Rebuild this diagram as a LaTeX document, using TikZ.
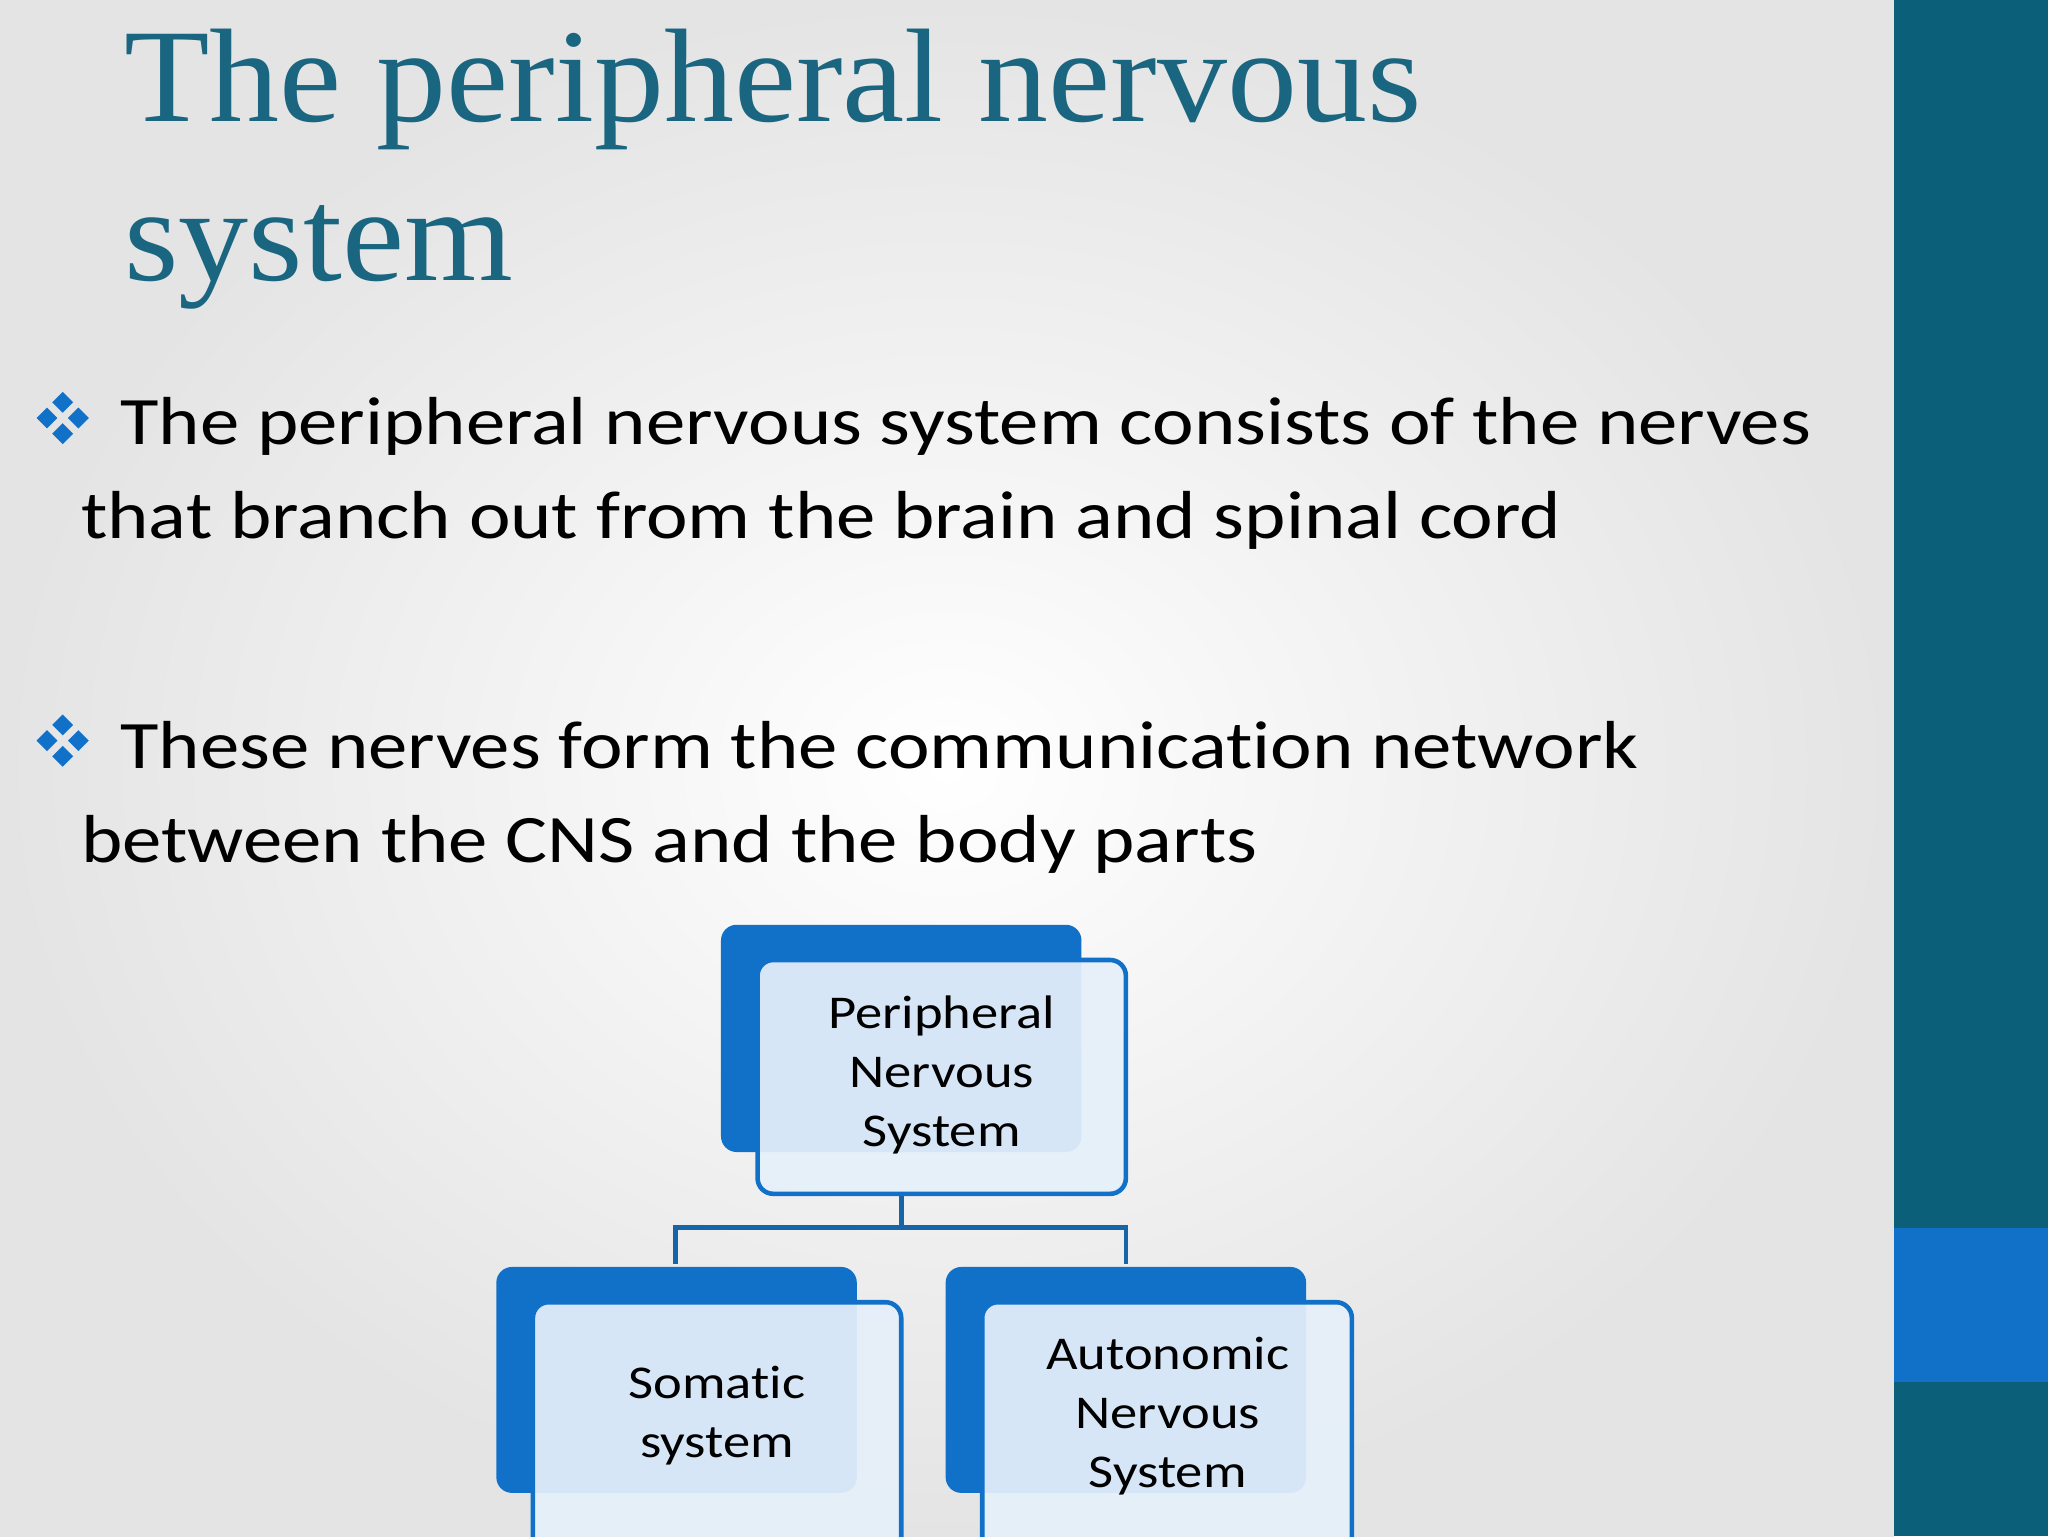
\documentclass[tikz,border=0pt]{standalone}
\usepackage{fontspec}
\setmainfont{Carlito}[FakeStretch=1.16,Ligatures=NoCommon]
\newfontfamily\titlefont{Liberation Serif}[FakeStretch=1.05]
\usetikzlibrary{fadings}
\definecolor{teal}{HTML}{0B5F78}
\definecolor{titlec}{HTML}{1A6680}
\definecolor{bblue}{HTML}{1170C8}
\definecolor{lblue}{HTML}{E6F0FA}
\definecolor{linec}{HTML}{1565A8}
\definecolor{bgray}{HTML}{E4E4E4}
\begin{document}
\begin{tikzpicture}[x=1pt,y=-1pt,
  back/.style={fill=bblue,rounded corners=12pt,draw=none},
  front/.style={fill=lblue,fill opacity=0.93,draw=bblue,line width=3.5pt,rounded corners=12pt},
  lab/.style={font=\fontsize{36}{45}\selectfont,align=center,text=black},
  conn/.style={draw=linec,line width=3.5pt},
  body/.style={font=\fontsize{52}{72}\selectfont,anchor=base west,inner sep=0}]
\useasboundingbox (0,0) rectangle (1568,1176);
\shade[inner color=white,outer color=bgray] (0,0) rectangle (1450,1176);
\fill[teal] (1450,0) rectangle (1568,1176);
\fill[bblue] (1450,940) rectangle (1568,1058);
% title
\node[anchor=base west,inner sep=0,text=titlec,font=\titlefont\fontsize{102}{110}\selectfont] (t1) at (95,93) {The peripheral nervous};
\node[anchor=base west,inner sep=0,text=titlec,font=\titlefont\fontsize{102}{110}\selectfont] (t2) at (95,215) {system};
% bullets
\foreach \n/\y in {b1/320,b2/567}{
  \foreach \dx/\dy in {-12/0,12/0,0/-12,0/12}{
    \fill[bblue] (48+\dx,\y+\dy) +(-8,0) -- +(0,-8) -- +(8,0) -- +(0,8) -- cycle;}
  \coordinate (\n) at (48,\y);
}
\node[body] (l1) at (92,340) {The peripheral nervous system consists of the nerves};
\node[body] (l2) at (62,412) {that branch out from the brain and spinal cord};
\node[body] (l3) at (92,588) {These nerves form the communication network};
\node[body] (l4) at (62,660) {between the CNS and the body parts};
% connectors
\coordinate (j) at (690,940);
\draw[conn] (690,914) -- (j);
\draw[conn] (517,968) -- (517,940) -- (862,940) -- (862,968);
% boxes
\fill[back] (552,708) rectangle (828,882);
\draw[front] (580,735) rectangle (862,914);
\node[lab] (pns) at (721,823) {Peripheral\\Nervous\\System};
\fill[back] (380,970) rectangle (656,1143);
\draw[front] (408,997) rectangle (690,1190);
\node[lab] (som) at (549,1084) {Somatic\\system};
\fill[back] (724,970) rectangle (1000,1143);
\draw[front] (752,997) rectangle (1035,1190);
\node[lab] (ans) at (894,1084) {Autonomic\\Nervous\\System};
\end{tikzpicture}
\end{document}
